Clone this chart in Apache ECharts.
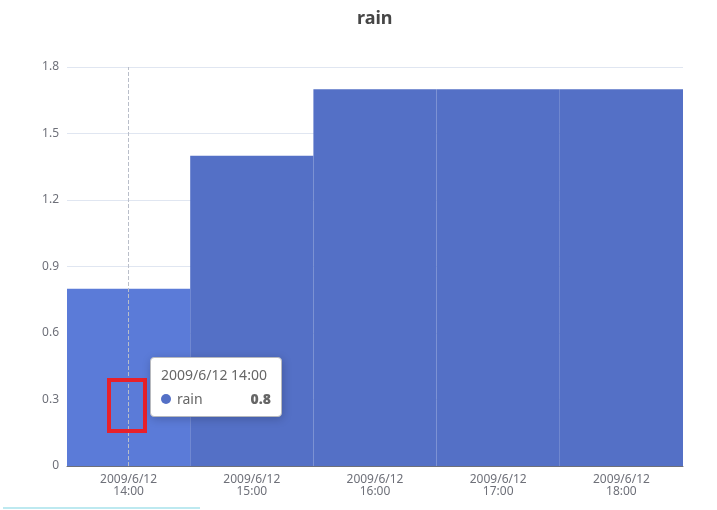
<!DOCTYPE html>
<html>
<head>
<meta charset="utf-8">
<script src="https://cdn.jsdelivr.net/npm/echarts@6/dist/echarts.min.js"></script>
<style>
  html, body { margin: 0; padding: 0; background: #fff; }
  #main { width: 717px; height: 510px; }
</style>
</head>
<body>
<div id="main"></div>
<script>
var categories = ['2009/6/12\n14:00', '2009/6/12\n15:00', '2009/6/12\n16:00', '2009/6/12\n17:00', '2009/6/12\n18:00'];
var rainValues = [0.8, 1.4, 1.7, 1.7, 1.7];
var tipTitles = ['2009/6/12 14:00', '2009/6/12 15:00', '2009/6/12 16:00', '2009/6/12 17:00', '2009/6/12 18:00'];

var chart = echarts.init(document.getElementById('main'));

chart.setOption({
    animation: false,
    textStyle: { fontFamily: 'Noto Sans, sans-serif' },
    title: {
        text: 'rain',
        left: 352,
        top: 5,
        textStyle: { fontSize: 18, fontWeight: 'bold', color: '#464646' }
    },
    tooltip: {
        trigger: 'axis',
        alwaysShowContent: true,
        transitionDuration: 0,
        position: [150, 357],
        axisPointer: {
            lineStyle: { color: '#B9BEC9', type: 'dashed', width: 1 }
        },
        formatter: function (params) {
            var p = params[0];
            return '<div style="width:110px">' +
                '<div style="color:#666;font-size:14px;line-height:1">' + tipTitles[p.dataIndex] + '</div>' +
                '<div style="margin-top:10px;line-height:1;font-size:14px;color:#666">' + p.marker +
                '<span style="margin-left:2px">' + p.seriesName + '</span>' +
                '<span style="float:right;font-weight:900;color:#666">' + p.value + '</span></div></div>';
        }
    },
    grid: { left: 67, right: 34, top: 67, bottom: 44 },
    xAxis: {
        type: 'category',
        data: categories,
        axisLine: { lineStyle: { color: '#6E7079' } },
        axisTick: { lineStyle: { color: '#6E7079' } },
        axisLabel: { color: '#6E7079', lineHeight: 12 }
    },
    yAxis: {
        type: 'value',
        min: 0,
        max: 1.8,
        interval: 0.3,
        axisLabel: { color: '#6E7079' },
        splitLine: { lineStyle: { color: '#E0E6F1' } }
    },
    graphic: [
        {
            type: 'rect',
            shape: { x: 109, y: 380, width: 36, height: 51 },
            style: { fill: 'none', stroke: '#e8202a', lineWidth: 4 },
            z: 100
        },
        {
            type: 'rect',
            shape: { x: 3, y: 507, width: 197, height: 2 },
            style: { fill: '#bde9f0' }
        }
    ],
    series: [{
        name: 'rain',
        type: 'bar',
        barCategoryGap: 0,
        itemStyle: { color: '#5470c6' },
        emphasis: { itemStyle: { color: '#5b7bd8' } },
        data: rainValues
    }]
});

chart.dispatchAction({ type: 'showTip', seriesIndex: 0, dataIndex: 0 });
</script>
</body>
</html>
